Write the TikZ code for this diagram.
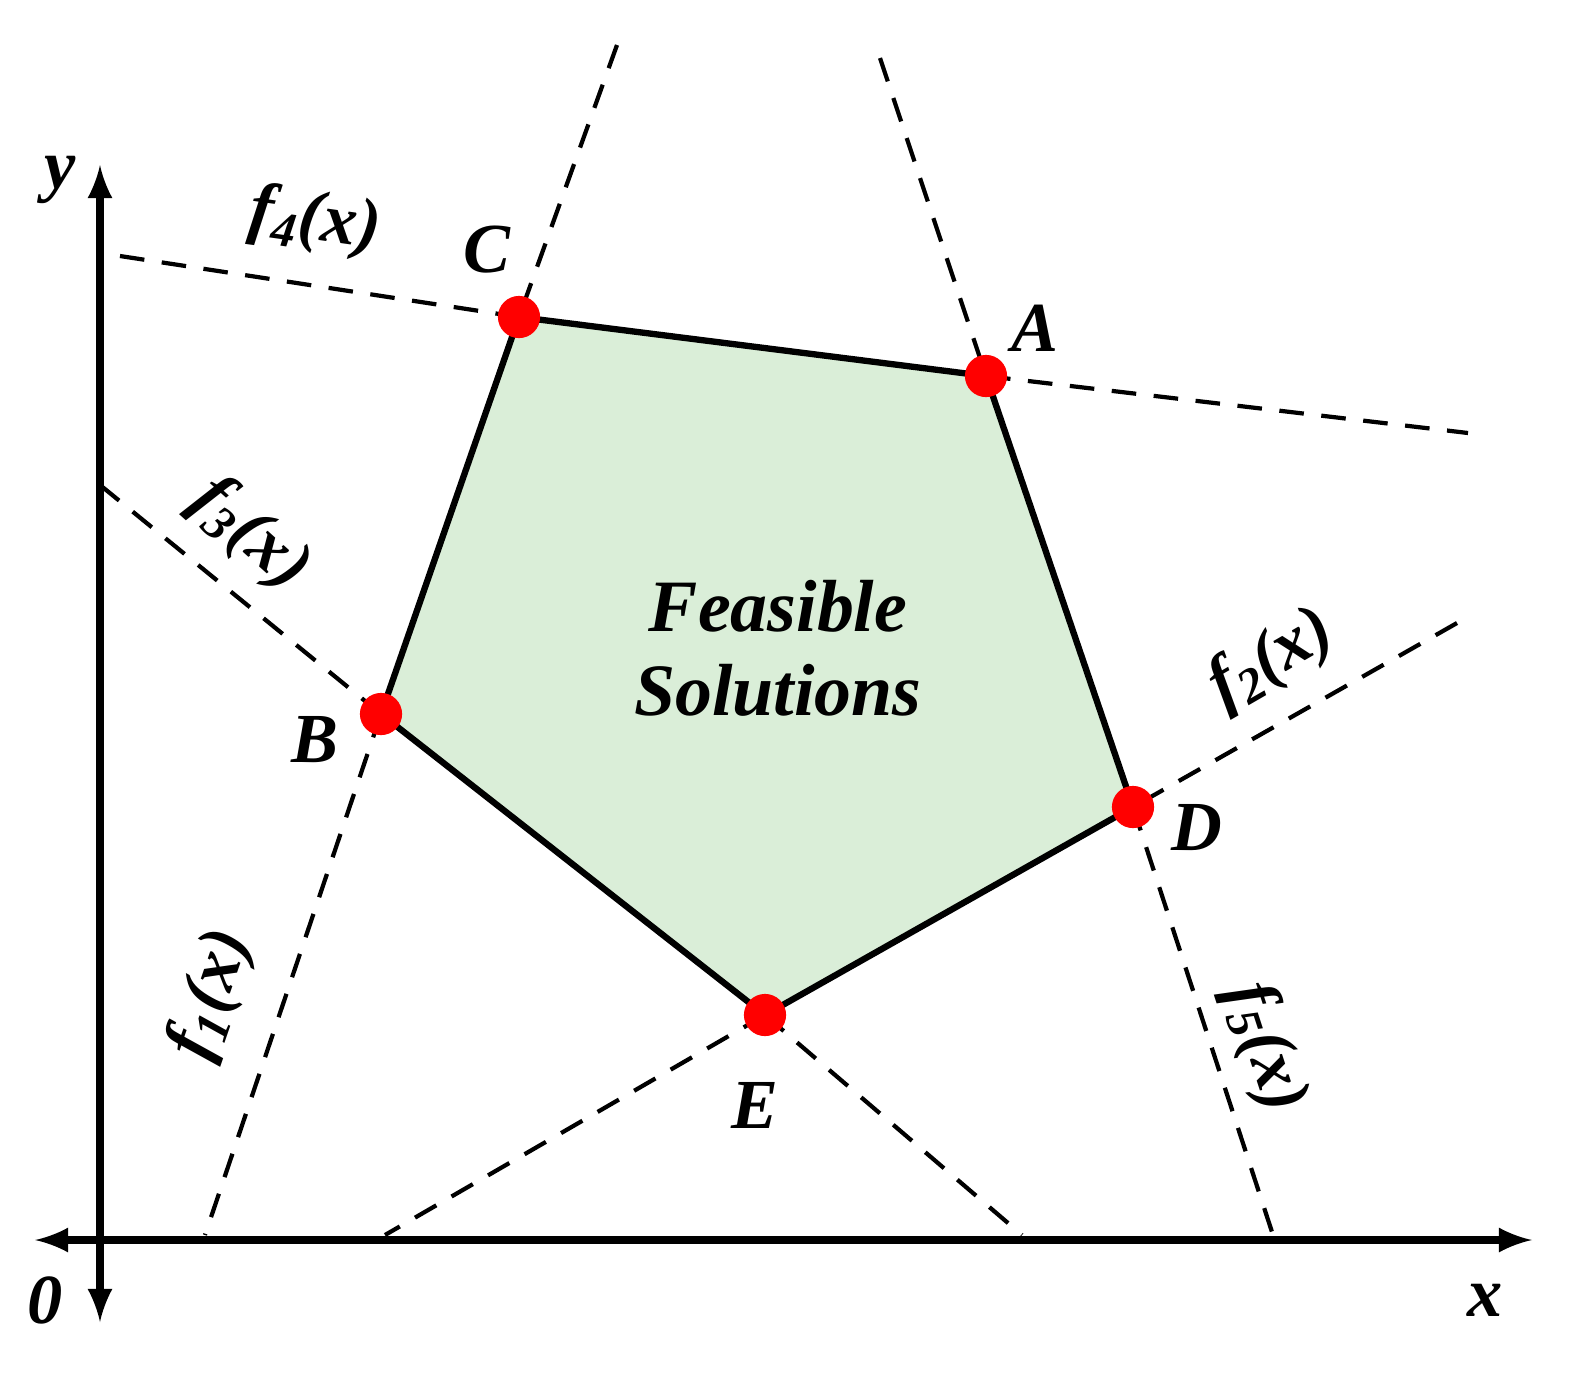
\documentclass[tikz,border=0pt]{standalone}
\usepackage{fontspec}
\setmainfont{Liberation Serif}
\begin{document}
\begin{tikzpicture}[x=0.01cm,y=-0.01cm,
  dl/.style={dashed,line width=1.2pt,dash pattern=on 7pt off 5pt},
  ax/.style={line width=2.2pt,<->,>=latex},
  lab/.style={font=\fontsize{20}{24}\selectfont\bfseries\itshape},
  pt/.style={circle,fill=red,inner sep=0pt,minimum size=12pt}]
\useasboundingbox (0,0) rectangle (1579,1375);
\coordinate (C) at (519,317);
\coordinate (A) at (986,376);
\coordinate (D) at (1133,807);
\coordinate (E) at (765,1015);
\coordinate (B) at (381,714);
\fill[fill={rgb,255:red,218;green,238;blue,216}] (C)--(A)--(D)--(E)--(B)--cycle;
\coordinate (f4a) at (120,256); \coordinate (f4b) at (1468,433);
\coordinate (f5a) at (880,58); \coordinate (f5b) at (1272,1232);
\coordinate (f1a) at (617,45); \coordinate (f1b) at (205,1235);
\coordinate (f2a) at (1457,623); \coordinate (f2b) at (385,1235);
\coordinate (f3a) at (100,485); \coordinate (f3b) at (1022,1235);
\draw[dl] (f4a)--(C) (A)--(f4b);
\draw[dl] (f5a)--(A) (D)--(f5b);
\draw[dl] (f1a)--(C) (B)--(f1b);
\draw[dl] (f2a)--(D) (E)--(f2b);
\draw[dl] (f3a)--(B) (E)--(f3b);
\draw[line width=1.8pt] (C)--(A)--(D)--(E)--(B)--cycle;
\coordinate (yb) at (100,1322); \coordinate (yt) at (100,165);
\coordinate (xl) at (35,1240); \coordinate (xr) at (1532,1240);
\draw[ax] (yb)--(yt);
\draw[ax] (xl)--(xr);
\foreach \p in {A,B,C,D,E} \node[pt] (n\p) at (\p) {};
\node[lab] (ly) at (60,180) {y};
\node[lab] (l0) at (45,1300) {0};
\node[lab] (lx) at (1485,1300) {x};
\node[lab] (lA) at (1035,328) {A};
\node[lab] (lC) at (487,250) {C};
\node[lab] (lB) at (315,740) {B};
\node[lab] (lD) at (1197,828) {D};
\node[lab] (lE) at (755,1105) {E};
\node[lab,rotate=-8] (l4) at (315,222) {f\textsubscript{4}(x)};
\node[lab,rotate=-42] (l3) at (250,535) {f\textsubscript{3}(x)};
\node[lab,rotate=30] (l2) at (1272,660) {f\textsubscript{2}(x)};
\node[lab,rotate=71] (l1) at (212,995) {f\textsubscript{1}(x)};
\node[lab,rotate=-72] (l5) at (1265,1048) {f\textsubscript{5}(x)};
\node[lab,align=center,font=\fontsize{21}{24}\selectfont\bfseries\itshape] (fs) at (778,648) {Feasible\\Solutions};
\end{tikzpicture}
\end{document}
